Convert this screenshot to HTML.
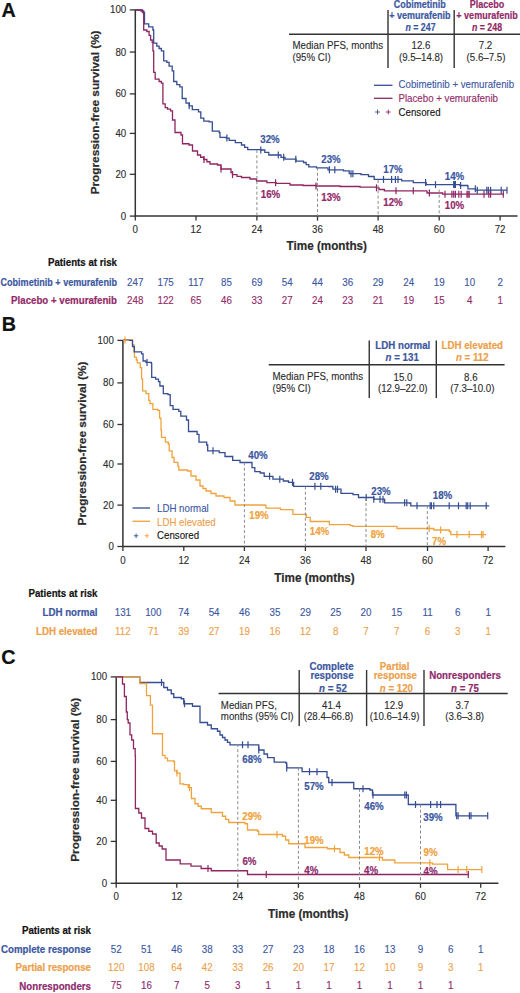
<!DOCTYPE html>
<html><head><meta charset="utf-8"><style>
html,body{margin:0;padding:0;background:#fff;}
body{width:520px;height:993px;overflow:hidden;}
svg{display:block;font-family:"Liberation Sans", sans-serif;}
</style></head><body>
<svg width="520" height="993" viewBox="0 0 520 993">
<text transform="translate(1.5,17.2) scale(0.98,1)" font-size="20.09" font-weight="bold" fill="#111" stroke="#111" stroke-width="0.2" text-anchor="start">A</text>
<text x="0" y="0" font-size="11.8" font-weight="bold" fill="#2b2b2b" stroke="#2b2b2b" stroke-width="0.2" text-anchor="middle" transform="translate(99.3,112.4) rotate(-90)">Progression-free survival (%)</text>
<line x1="135.3" y1="9.4" x2="135.3" y2="216.7" stroke="#333333" stroke-width="1.5"/>
<line x1="134.60000000000002" y1="216.1" x2="517.5" y2="216.1" stroke="#333333" stroke-width="1.5"/>
<line x1="129.8" y1="216.1" x2="135.3" y2="216.1" stroke="#333333" stroke-width="1.3"/>
<text transform="translate(126.20000000000002,219.6) scale(0.91,1)" font-size="10.67" fill="#2b2b2b" stroke="#2b2b2b" stroke-width="0.12" text-anchor="end">0</text>
<line x1="129.8" y1="174.3" x2="135.3" y2="174.3" stroke="#333333" stroke-width="1.3"/>
<text transform="translate(126.20000000000002,177.8) scale(0.91,1)" font-size="10.67" fill="#2b2b2b" stroke="#2b2b2b" stroke-width="0.12" text-anchor="end">20</text>
<line x1="129.8" y1="133.4" x2="135.3" y2="133.4" stroke="#333333" stroke-width="1.3"/>
<text transform="translate(126.20000000000002,136.9) scale(0.91,1)" font-size="10.67" fill="#2b2b2b" stroke="#2b2b2b" stroke-width="0.12" text-anchor="end">40</text>
<line x1="129.8" y1="93.9" x2="135.3" y2="93.9" stroke="#333333" stroke-width="1.3"/>
<text transform="translate(126.20000000000002,97.4) scale(0.91,1)" font-size="10.67" fill="#2b2b2b" stroke="#2b2b2b" stroke-width="0.12" text-anchor="end">60</text>
<line x1="129.8" y1="52.05" x2="135.3" y2="52.05" stroke="#333333" stroke-width="1.3"/>
<text transform="translate(126.20000000000002,55.55) scale(0.91,1)" font-size="10.67" fill="#2b2b2b" stroke="#2b2b2b" stroke-width="0.12" text-anchor="end">80</text>
<line x1="129.8" y1="9.9" x2="135.3" y2="9.9" stroke="#333333" stroke-width="1.3"/>
<text transform="translate(126.20000000000002,13.4) scale(0.91,1)" font-size="10.67" fill="#2b2b2b" stroke="#2b2b2b" stroke-width="0.12" text-anchor="end">100</text>
<line x1="135.3" y1="216.1" x2="135.3" y2="220.6" stroke="#333333" stroke-width="1.3"/>
<text transform="translate(135.3,233.1) scale(0.91,1)" font-size="10.67" fill="#2b2b2b" stroke="#2b2b2b" stroke-width="0.12" text-anchor="middle">0</text>
<line x1="196" y1="216.1" x2="196" y2="220.6" stroke="#333333" stroke-width="1.3"/>
<text transform="translate(196,233.1) scale(0.91,1)" font-size="10.67" fill="#2b2b2b" stroke="#2b2b2b" stroke-width="0.12" text-anchor="middle">12</text>
<line x1="256.9" y1="216.1" x2="256.9" y2="220.6" stroke="#333333" stroke-width="1.3"/>
<text transform="translate(256.9,233.1) scale(0.91,1)" font-size="10.67" fill="#2b2b2b" stroke="#2b2b2b" stroke-width="0.12" text-anchor="middle">24</text>
<line x1="317.5" y1="216.1" x2="317.5" y2="220.6" stroke="#333333" stroke-width="1.3"/>
<text transform="translate(317.5,233.1) scale(0.91,1)" font-size="10.67" fill="#2b2b2b" stroke="#2b2b2b" stroke-width="0.12" text-anchor="middle">36</text>
<line x1="378.1" y1="216.1" x2="378.1" y2="220.6" stroke="#333333" stroke-width="1.3"/>
<text transform="translate(378.1,233.1) scale(0.91,1)" font-size="10.67" fill="#2b2b2b" stroke="#2b2b2b" stroke-width="0.12" text-anchor="middle">48</text>
<line x1="439.2" y1="216.1" x2="439.2" y2="220.6" stroke="#333333" stroke-width="1.3"/>
<text transform="translate(439.2,233.1) scale(0.91,1)" font-size="10.67" fill="#2b2b2b" stroke="#2b2b2b" stroke-width="0.12" text-anchor="middle">60</text>
<line x1="500.1" y1="216.1" x2="500.1" y2="220.6" stroke="#333333" stroke-width="1.3"/>
<text transform="translate(500.1,233.1) scale(0.91,1)" font-size="10.67" fill="#2b2b2b" stroke="#2b2b2b" stroke-width="0.12" text-anchor="middle">72</text>
<text transform="translate(326.75,250.2) scale(0.91,1)" font-size="12.87" font-weight="bold" fill="#2b2b2b" stroke="#2b2b2b" stroke-width="0.2" text-anchor="middle">Time (months)</text>
<path d="M135.50,10.00L140.00,10.00L140.00,10.00L142.50,10.00L142.50,12.50L144.50,12.50L144.50,23.80L148.70,23.80L148.70,26.90L152.90,26.90L152.90,30.00L153.70,30.00L153.70,43.10L156.80,43.10L156.80,46.20L159.10,46.20L159.10,48.50L161.40,48.50L161.40,50.80L163.70,50.80L163.70,60.80L166.80,60.80L166.80,62.30L169.10,62.30L169.10,66.20L172.20,66.20L172.20,70.80L173.70,70.80L173.70,81.50L176.80,81.50L176.80,84.60L179.80,84.60L179.80,86.90L182.20,86.90L182.20,98.50L186.00,98.50L186.00,103.10L189.20,103.10L189.20,105.80L192.30,105.80L192.30,109.60L198.50,109.60L198.50,111.90L200.80,111.90L200.80,118.10L203.80,118.10L203.80,121.20L209.20,121.20L209.20,121.90L212.30,121.90L212.30,131.20L219.20,131.20L219.20,132.70L220.00,132.70L220.00,137.30L226.20,137.30L226.20,138.10L229.20,138.10L229.20,140.40L235.35,140.40L235.35,142.70L241.50,142.70L241.50,145.00L244.60,145.00L244.60,147.30L247.70,147.30L247.70,149.60L260.80,149.60L260.80,150.00L264.80,150.00L264.80,152.30L268.80,152.30L268.80,155.00L281.00,155.00L281.00,157.30L285.00,157.30L285.00,159.20L296.00,159.20L296.00,161.20L303.50,161.20L303.50,162.50L306.15,162.50L306.15,164.70L308.80,164.70L308.80,166.90L316.50,166.90L316.50,167.90L328.00,167.90L328.00,169.80L343.50,169.80L343.50,170.80L349.20,170.80L349.20,173.70L361.00,173.70L361.00,174.60L368.50,174.60L368.50,176.50L374.20,176.50L374.20,179.40L401.70,179.40L401.70,180.90L413.30,180.90L413.30,182.60L426.20,182.60L426.20,184.60L451.50,184.60L451.50,184.60L460.00,184.60L460.00,185.50L467.70,185.50L467.70,186.20L468.00,186.20L468.00,188.80L475.40,188.80L475.40,188.80L475.60,188.80L475.60,190.20L507.00,190.20L507.00,190.20" fill="none" stroke="#354d92" stroke-width="1.3" stroke-linejoin="miter"/>
<path d="M135.50,10.00L141.00,10.00L141.00,10.00L141.00,10.00L141.00,11.00L143.70,11.00L143.70,30.00L146.80,30.00L146.80,31.50L149.10,31.50L149.10,35.40L150.60,35.40L150.60,40.00L152.20,40.00L152.20,42.30L152.90,42.30L152.90,50.80L153.70,50.80L153.70,72.30L155.20,72.30L155.20,79.20L159.10,79.20L159.10,81.50L161.40,81.50L161.40,83.10L162.90,83.10L162.90,103.80L165.20,103.80L165.20,107.70L167.50,107.70L167.50,109.20L170.60,109.20L170.60,110.80L172.50,110.80L172.50,120.00L175.00,120.00L175.00,132.50L181.00,132.50L181.00,135.00L182.50,135.00L182.50,143.75L189.00,143.75L189.00,145.00L192.50,145.00L192.50,151.00L197.50,151.00L197.50,155.00L200.62,155.00L200.62,157.25L203.75,157.25L203.75,159.50L206.88,159.50L206.88,161.75L210.00,161.75L210.00,164.00L217.50,164.00L217.50,165.00L221.00,165.00L221.00,169.00L231.00,169.00L231.00,172.50L232.50,172.50L232.50,174.60L237.00,174.60L237.00,176.30L241.50,176.30L241.50,177.50L250.00,177.50L250.00,179.00L256.50,179.00L256.50,181.00L266.90,181.00L266.90,182.70L276.10,182.70L276.10,183.30L290.00,183.30L290.00,185.00L303.00,185.00L303.00,185.50L316.00,185.50L316.00,186.00L340.00,186.00L340.00,186.50L360.00,186.50L360.00,187.20L376.50,187.20L376.50,187.80L379.00,187.80L379.00,189.50L384.40,189.50L384.40,190.80L423.00,190.80L423.00,190.80L427.00,190.80L427.00,193.00L442.70,193.00L442.70,194.20L504.00,194.20L504.00,194.20" fill="none" stroke="#8e2662" stroke-width="1.3" stroke-linejoin="miter"/>
<line x1="189.2" y1="102.3" x2="189.2" y2="109.3" stroke="#354d92" stroke-width="1.2"/>
<line x1="226.9" y1="134.6" x2="226.9" y2="141.6" stroke="#354d92" stroke-width="1.2"/>
<line x1="260.8" y1="146.5" x2="260.8" y2="153.5" stroke="#354d92" stroke-width="1.2"/>
<line x1="278.3" y1="151.5" x2="278.3" y2="158.5" stroke="#354d92" stroke-width="1.2"/>
<line x1="283.7" y1="153.8" x2="283.7" y2="160.8" stroke="#354d92" stroke-width="1.2"/>
<line x1="295.8" y1="155.7" x2="295.8" y2="162.7" stroke="#354d92" stroke-width="1.2"/>
<line x1="329.4" y1="166.3" x2="329.4" y2="173.3" stroke="#354d92" stroke-width="1.2"/>
<line x1="334.8" y1="166.3" x2="334.8" y2="173.3" stroke="#354d92" stroke-width="1.2"/>
<line x1="351" y1="170.2" x2="351" y2="177.2" stroke="#354d92" stroke-width="1.2"/>
<line x1="352.9" y1="170.2" x2="352.9" y2="177.2" stroke="#354d92" stroke-width="1.2"/>
<line x1="383.5" y1="175.9" x2="383.5" y2="182.9" stroke="#354d92" stroke-width="1.2"/>
<line x1="391.6" y1="175.9" x2="391.6" y2="182.9" stroke="#354d92" stroke-width="1.2"/>
<line x1="395.4" y1="175.9" x2="395.4" y2="182.9" stroke="#354d92" stroke-width="1.2"/>
<line x1="398" y1="175.9" x2="398" y2="182.9" stroke="#354d92" stroke-width="1.2"/>
<line x1="425.6" y1="179.1" x2="425.6" y2="186.1" stroke="#354d92" stroke-width="1.2"/>
<line x1="435.5" y1="181.1" x2="435.5" y2="188.1" stroke="#354d92" stroke-width="1.2"/>
<line x1="453.7" y1="181.1" x2="453.7" y2="188.1" stroke="#354d92" stroke-width="1.2"/>
<line x1="454.5" y1="181.1" x2="454.5" y2="188.1" stroke="#354d92" stroke-width="1.2"/>
<line x1="455.4" y1="181.1" x2="455.4" y2="188.1" stroke="#354d92" stroke-width="1.2"/>
<line x1="460.6" y1="182.0" x2="460.6" y2="189.0" stroke="#354d92" stroke-width="1.2"/>
<line x1="475.3" y1="185.3" x2="475.3" y2="192.3" stroke="#354d92" stroke-width="1.2"/>
<line x1="477.3" y1="186.7" x2="477.3" y2="193.7" stroke="#354d92" stroke-width="1.2"/>
<line x1="486.8" y1="186.7" x2="486.8" y2="193.7" stroke="#354d92" stroke-width="1.2"/>
<line x1="488.3" y1="186.7" x2="488.3" y2="193.7" stroke="#354d92" stroke-width="1.2"/>
<line x1="490.6" y1="186.7" x2="490.6" y2="193.7" stroke="#354d92" stroke-width="1.2"/>
<line x1="501.2" y1="186.7" x2="501.2" y2="193.7" stroke="#354d92" stroke-width="1.2"/>
<line x1="507" y1="186.7" x2="507" y2="193.7" stroke="#354d92" stroke-width="1.2"/>
<line x1="204" y1="156.0" x2="204" y2="163.0" stroke="#8e2662" stroke-width="1.2"/>
<line x1="221" y1="165.5" x2="221" y2="172.5" stroke="#8e2662" stroke-width="1.2"/>
<line x1="232.5" y1="171.1" x2="232.5" y2="178.1" stroke="#8e2662" stroke-width="1.2"/>
<line x1="275.6" y1="179.2" x2="275.6" y2="186.2" stroke="#8e2662" stroke-width="1.2"/>
<line x1="316" y1="182.5" x2="316" y2="189.5" stroke="#8e2662" stroke-width="1.2"/>
<line x1="376.5" y1="184.3" x2="376.5" y2="191.3" stroke="#8e2662" stroke-width="1.2"/>
<line x1="396" y1="187.3" x2="396" y2="194.3" stroke="#8e2662" stroke-width="1.2"/>
<line x1="413.3" y1="187.3" x2="413.3" y2="194.3" stroke="#8e2662" stroke-width="1.2"/>
<line x1="429.4" y1="189.5" x2="429.4" y2="196.5" stroke="#8e2662" stroke-width="1.2"/>
<line x1="445" y1="190.7" x2="445" y2="197.7" stroke="#8e2662" stroke-width="1.2"/>
<line x1="451.9" y1="190.7" x2="451.9" y2="197.7" stroke="#8e2662" stroke-width="1.2"/>
<line x1="453.7" y1="190.7" x2="453.7" y2="197.7" stroke="#8e2662" stroke-width="1.2"/>
<line x1="455.4" y1="190.7" x2="455.4" y2="197.7" stroke="#8e2662" stroke-width="1.2"/>
<line x1="458.8" y1="190.7" x2="458.8" y2="197.7" stroke="#8e2662" stroke-width="1.2"/>
<line x1="461.2" y1="190.7" x2="461.2" y2="197.7" stroke="#8e2662" stroke-width="1.2"/>
<line x1="467" y1="190.7" x2="467" y2="197.7" stroke="#8e2662" stroke-width="1.2"/>
<line x1="468" y1="190.7" x2="468" y2="197.7" stroke="#8e2662" stroke-width="1.2"/>
<line x1="469.2" y1="190.7" x2="469.2" y2="197.7" stroke="#8e2662" stroke-width="1.2"/>
<line x1="484" y1="190.7" x2="484" y2="197.7" stroke="#8e2662" stroke-width="1.2"/>
<line x1="488.8" y1="190.7" x2="488.8" y2="197.7" stroke="#8e2662" stroke-width="1.2"/>
<line x1="490.6" y1="190.7" x2="490.6" y2="197.7" stroke="#8e2662" stroke-width="1.2"/>
<line x1="503.3" y1="190.7" x2="503.3" y2="197.7" stroke="#8e2662" stroke-width="1.2"/>
<line x1="256.9" y1="150" x2="256.9" y2="216.25" stroke="#8a8a8a" stroke-width="1.0" stroke-dasharray="3,2.2"/>
<line x1="317.5" y1="167.5" x2="317.5" y2="216.25" stroke="#8a8a8a" stroke-width="1.0" stroke-dasharray="3,2.2"/>
<line x1="378.1" y1="180" x2="378.1" y2="216.25" stroke="#8a8a8a" stroke-width="1.0" stroke-dasharray="3,2.2"/>
<line x1="439.2" y1="189.5" x2="439.2" y2="216.25" stroke="#8a8a8a" stroke-width="1.0" stroke-dasharray="3,2.2"/>
<text transform="translate(270,143) scale(0.91,1)" font-size="10.67" font-weight="bold" fill="#3b579f" stroke="#3b579f" stroke-width="0.2" text-anchor="middle">32%</text>
<text transform="translate(331,163) scale(0.91,1)" font-size="10.67" font-weight="bold" fill="#3b579f" stroke="#3b579f" stroke-width="0.2" text-anchor="middle">23%</text>
<text transform="translate(393,173) scale(0.91,1)" font-size="10.67" font-weight="bold" fill="#3b579f" stroke="#3b579f" stroke-width="0.2" text-anchor="middle">17%</text>
<text transform="translate(454.5,180) scale(0.91,1)" font-size="10.67" font-weight="bold" fill="#3b579f" stroke="#3b579f" stroke-width="0.2" text-anchor="middle">14%</text>
<text transform="translate(270.5,198) scale(0.91,1)" font-size="10.67" font-weight="bold" fill="#932968" stroke="#932968" stroke-width="0.2" text-anchor="middle">16%</text>
<text transform="translate(331,200.5) scale(0.91,1)" font-size="10.67" font-weight="bold" fill="#932968" stroke="#932968" stroke-width="0.2" text-anchor="middle">13%</text>
<text transform="translate(393,206) scale(0.91,1)" font-size="10.67" font-weight="bold" fill="#932968" stroke="#932968" stroke-width="0.2" text-anchor="middle">12%</text>
<text transform="translate(454.5,209) scale(0.91,1)" font-size="10.67" font-weight="bold" fill="#932968" stroke="#932968" stroke-width="0.2" text-anchor="middle">10%</text>
<line x1="289" y1="34.25" x2="520" y2="34.25" stroke="#333333" stroke-width="1.4"/>
<line x1="388" y1="10" x2="388" y2="68" stroke="#333333" stroke-width="1.4"/>
<line x1="454.2" y1="10" x2="454.2" y2="68" stroke="#333333" stroke-width="1.4"/>
<text transform="translate(419.8,7.9) scale(0.9,1)" font-size="10.01" font-weight="bold" fill="#3b579f" stroke="#3b579f" stroke-width="0.2" text-anchor="middle">Cobimetinib</text>
<text transform="translate(419.8,19.2) scale(0.9,1)" font-size="10.01" font-weight="bold" fill="#3b579f" stroke="#3b579f" stroke-width="0.2" text-anchor="middle">+ vemurafenib</text>
<text transform="translate(487,7.9) scale(0.9,1)" font-size="10.01" font-weight="bold" fill="#932968" stroke="#932968" stroke-width="0.2" text-anchor="middle">Placebo</text>
<text transform="translate(487,19.2) scale(0.9,1)" font-size="10.01" font-weight="bold" fill="#932968" stroke="#932968" stroke-width="0.2" text-anchor="middle">+ vemurafenib</text>
<text transform="translate(420.5,30.9) scale(0.88,1)" font-size="10.01" font-weight="bold" fill="#3b579f" stroke="#3b579f" stroke-width="0.2" text-anchor="middle"><tspan font-style="italic">n</tspan> = 247</text>
<text transform="translate(487,30.9) scale(0.88,1)" font-size="10.01" font-weight="bold" fill="#932968" stroke="#932968" stroke-width="0.2" text-anchor="middle"><tspan font-style="italic">n</tspan> = 248</text>
<text transform="translate(292.5,49) scale(0.91,1)" font-size="10.67" fill="#2b2b2b" stroke="#2b2b2b" stroke-width="0.12" text-anchor="start">Median PFS, months</text>
<text transform="translate(292.5,60.5) scale(0.91,1)" font-size="10.67" fill="#2b2b2b" stroke="#2b2b2b" stroke-width="0.12" text-anchor="start">(95% CI)</text>
<text transform="translate(421,48.7) scale(0.91,1)" font-size="10.67" fill="#2b2b2b" stroke="#2b2b2b" stroke-width="0.12" text-anchor="middle">12.6</text>
<text transform="translate(421,60.5) scale(0.91,1)" font-size="10.67" fill="#2b2b2b" stroke="#2b2b2b" stroke-width="0.12" text-anchor="middle">(9.5–14.8)</text>
<text transform="translate(485.5,48.7) scale(0.91,1)" font-size="10.67" fill="#2b2b2b" stroke="#2b2b2b" stroke-width="0.12" text-anchor="middle">7.2</text>
<text transform="translate(486,60.5) scale(0.91,1)" font-size="10.67" fill="#2b2b2b" stroke="#2b2b2b" stroke-width="0.12" text-anchor="middle">(5.6–7.5)</text>
<line x1="374" y1="85.3" x2="392.5" y2="85.3" stroke="#354d92" stroke-width="1.3"/>
<line x1="374" y1="98.3" x2="392.5" y2="98.3" stroke="#8e2662" stroke-width="1.3"/>
<text transform="translate(398.5,88.3) scale(0.91,1)" font-size="10.67" fill="#3b579f" stroke="#3b579f" stroke-width="0.12" text-anchor="start">Cobimetinib + vemurafenib</text>
<text transform="translate(398.5,102) scale(0.91,1)" font-size="10.67" fill="#932968" stroke="#932968" stroke-width="0.12" text-anchor="start">Placebo + vemurafenib</text>
<text transform="translate(398.5,116) scale(0.91,1)" font-size="10.67" fill="#111" stroke="#111" stroke-width="0.12" text-anchor="start">Censored</text>
<line x1="377.5" y1="109.6" x2="377.5" y2="114.4" stroke="#354d92" stroke-width="0.9"/>
<line x1="375.1" y1="112" x2="379.9" y2="112" stroke="#354d92" stroke-width="0.9"/>
<line x1="388.3" y1="109.6" x2="388.3" y2="114.4" stroke="#8e2662" stroke-width="0.9"/>
<line x1="385.9" y1="112" x2="390.7" y2="112" stroke="#8e2662" stroke-width="0.9"/>
<text transform="translate(117,266.3) scale(0.91,1)" font-size="10.67" font-weight="bold" fill="#111" stroke="#111" stroke-width="0.2" text-anchor="end">Patients at risk</text>
<text transform="translate(117,285.8) scale(0.85,1)" font-size="10.67" font-weight="bold" fill="#3b579f" stroke="#3b579f" stroke-width="0.2" text-anchor="end">Cobimetinib + vemurafenib</text>
<text transform="translate(117,303.8) scale(0.91,1)" font-size="10.67" font-weight="bold" fill="#932968" stroke="#932968" stroke-width="0.2" text-anchor="end">Placebo + vemurafenib</text>
<text transform="translate(135.3,286.0) scale(0.91,1)" font-size="10.78" fill="#3b579f" stroke="#3b579f" stroke-width="0.12" text-anchor="middle">247</text>
<text transform="translate(135.3,303.7) scale(0.91,1)" font-size="10.78" fill="#932968" stroke="#932968" stroke-width="0.12" text-anchor="middle">248</text>
<text transform="translate(165.65,286.0) scale(0.91,1)" font-size="10.78" fill="#3b579f" stroke="#3b579f" stroke-width="0.12" text-anchor="middle">175</text>
<text transform="translate(165.65,303.7) scale(0.91,1)" font-size="10.78" fill="#932968" stroke="#932968" stroke-width="0.12" text-anchor="middle">122</text>
<text transform="translate(196,286.0) scale(0.91,1)" font-size="10.78" fill="#3b579f" stroke="#3b579f" stroke-width="0.12" text-anchor="middle">117</text>
<text transform="translate(196,303.7) scale(0.91,1)" font-size="10.78" fill="#932968" stroke="#932968" stroke-width="0.12" text-anchor="middle">65</text>
<text transform="translate(226.45,286.0) scale(0.91,1)" font-size="10.78" fill="#3b579f" stroke="#3b579f" stroke-width="0.12" text-anchor="middle">85</text>
<text transform="translate(226.45,303.7) scale(0.91,1)" font-size="10.78" fill="#932968" stroke="#932968" stroke-width="0.12" text-anchor="middle">46</text>
<text transform="translate(256.9,286.0) scale(0.91,1)" font-size="10.78" fill="#3b579f" stroke="#3b579f" stroke-width="0.12" text-anchor="middle">69</text>
<text transform="translate(256.9,303.7) scale(0.91,1)" font-size="10.78" fill="#932968" stroke="#932968" stroke-width="0.12" text-anchor="middle">33</text>
<text transform="translate(287.2,286.0) scale(0.91,1)" font-size="10.78" fill="#3b579f" stroke="#3b579f" stroke-width="0.12" text-anchor="middle">54</text>
<text transform="translate(287.2,303.7) scale(0.91,1)" font-size="10.78" fill="#932968" stroke="#932968" stroke-width="0.12" text-anchor="middle">27</text>
<text transform="translate(317.5,286.0) scale(0.91,1)" font-size="10.78" fill="#3b579f" stroke="#3b579f" stroke-width="0.12" text-anchor="middle">44</text>
<text transform="translate(317.5,303.7) scale(0.91,1)" font-size="10.78" fill="#932968" stroke="#932968" stroke-width="0.12" text-anchor="middle">24</text>
<text transform="translate(347.8,286.0) scale(0.91,1)" font-size="10.78" fill="#3b579f" stroke="#3b579f" stroke-width="0.12" text-anchor="middle">36</text>
<text transform="translate(347.8,303.7) scale(0.91,1)" font-size="10.78" fill="#932968" stroke="#932968" stroke-width="0.12" text-anchor="middle">23</text>
<text transform="translate(378.1,286.0) scale(0.91,1)" font-size="10.78" fill="#3b579f" stroke="#3b579f" stroke-width="0.12" text-anchor="middle">29</text>
<text transform="translate(378.1,303.7) scale(0.91,1)" font-size="10.78" fill="#932968" stroke="#932968" stroke-width="0.12" text-anchor="middle">21</text>
<text transform="translate(408.65,286.0) scale(0.91,1)" font-size="10.78" fill="#3b579f" stroke="#3b579f" stroke-width="0.12" text-anchor="middle">24</text>
<text transform="translate(408.65,303.7) scale(0.91,1)" font-size="10.78" fill="#932968" stroke="#932968" stroke-width="0.12" text-anchor="middle">19</text>
<text transform="translate(439.2,286.0) scale(0.91,1)" font-size="10.78" fill="#3b579f" stroke="#3b579f" stroke-width="0.12" text-anchor="middle">19</text>
<text transform="translate(439.2,303.7) scale(0.91,1)" font-size="10.78" fill="#932968" stroke="#932968" stroke-width="0.12" text-anchor="middle">15</text>
<text transform="translate(469.65,286.0) scale(0.91,1)" font-size="10.78" fill="#3b579f" stroke="#3b579f" stroke-width="0.12" text-anchor="middle">10</text>
<text transform="translate(469.65,303.7) scale(0.91,1)" font-size="10.78" fill="#932968" stroke="#932968" stroke-width="0.12" text-anchor="middle">4</text>
<text transform="translate(500.1,286.0) scale(0.91,1)" font-size="10.78" fill="#3b579f" stroke="#3b579f" stroke-width="0.12" text-anchor="middle">2</text>
<text transform="translate(500.1,303.7) scale(0.91,1)" font-size="10.78" fill="#932968" stroke="#932968" stroke-width="0.12" text-anchor="middle">1</text>
<text transform="translate(1.8,330.5) scale(0.98,1)" font-size="20.09" font-weight="bold" fill="#111" stroke="#111" stroke-width="0.2" text-anchor="start">B</text>
<text x="0" y="0" font-size="11.8" font-weight="bold" fill="#2b2b2b" stroke="#2b2b2b" stroke-width="0.2" text-anchor="middle" transform="translate(86.3,443.5) rotate(-90)">Progression-free survival (%)</text>
<line x1="122.9" y1="339.9" x2="122.9" y2="547.1" stroke="#333333" stroke-width="1.5"/>
<line x1="122.2" y1="546.5" x2="505.4" y2="546.5" stroke="#333333" stroke-width="1.5"/>
<line x1="117.4" y1="546.5" x2="122.9" y2="546.5" stroke="#333333" stroke-width="1.3"/>
<text transform="translate(113.80000000000001,550.0) scale(0.91,1)" font-size="10.67" fill="#2b2b2b" stroke="#2b2b2b" stroke-width="0.12" text-anchor="end">0</text>
<line x1="117.4" y1="505.1" x2="122.9" y2="505.1" stroke="#333333" stroke-width="1.3"/>
<text transform="translate(113.80000000000001,508.6) scale(0.91,1)" font-size="10.67" fill="#2b2b2b" stroke="#2b2b2b" stroke-width="0.12" text-anchor="end">20</text>
<line x1="117.4" y1="464" x2="122.9" y2="464" stroke="#333333" stroke-width="1.3"/>
<text transform="translate(113.80000000000001,467.5) scale(0.91,1)" font-size="10.67" fill="#2b2b2b" stroke="#2b2b2b" stroke-width="0.12" text-anchor="end">40</text>
<line x1="117.4" y1="424.5" x2="122.9" y2="424.5" stroke="#333333" stroke-width="1.3"/>
<text transform="translate(113.80000000000001,428.0) scale(0.91,1)" font-size="10.67" fill="#2b2b2b" stroke="#2b2b2b" stroke-width="0.12" text-anchor="end">60</text>
<line x1="117.4" y1="382.9" x2="122.9" y2="382.9" stroke="#333333" stroke-width="1.3"/>
<text transform="translate(113.80000000000001,386.4) scale(0.91,1)" font-size="10.67" fill="#2b2b2b" stroke="#2b2b2b" stroke-width="0.12" text-anchor="end">80</text>
<line x1="117.4" y1="340.4" x2="122.9" y2="340.4" stroke="#333333" stroke-width="1.3"/>
<text transform="translate(113.80000000000001,343.9) scale(0.91,1)" font-size="10.67" fill="#2b2b2b" stroke="#2b2b2b" stroke-width="0.12" text-anchor="end">100</text>
<line x1="122.9" y1="546.5" x2="122.9" y2="551.0" stroke="#333333" stroke-width="1.3"/>
<text transform="translate(122.9,563.5) scale(0.91,1)" font-size="10.67" fill="#2b2b2b" stroke="#2b2b2b" stroke-width="0.12" text-anchor="middle">0</text>
<line x1="183.8" y1="546.5" x2="183.8" y2="551.0" stroke="#333333" stroke-width="1.3"/>
<text transform="translate(183.8,563.5) scale(0.91,1)" font-size="10.67" fill="#2b2b2b" stroke="#2b2b2b" stroke-width="0.12" text-anchor="middle">12</text>
<line x1="244.4" y1="546.5" x2="244.4" y2="551.0" stroke="#333333" stroke-width="1.3"/>
<text transform="translate(244.4,563.5) scale(0.91,1)" font-size="10.67" fill="#2b2b2b" stroke="#2b2b2b" stroke-width="0.12" text-anchor="middle">24</text>
<line x1="305.4" y1="546.5" x2="305.4" y2="551.0" stroke="#333333" stroke-width="1.3"/>
<text transform="translate(305.4,563.5) scale(0.91,1)" font-size="10.67" fill="#2b2b2b" stroke="#2b2b2b" stroke-width="0.12" text-anchor="middle">36</text>
<line x1="366" y1="546.5" x2="366" y2="551.0" stroke="#333333" stroke-width="1.3"/>
<text transform="translate(366,563.5) scale(0.91,1)" font-size="10.67" fill="#2b2b2b" stroke="#2b2b2b" stroke-width="0.12" text-anchor="middle">48</text>
<line x1="427.5" y1="546.5" x2="427.5" y2="551.0" stroke="#333333" stroke-width="1.3"/>
<text transform="translate(427.5,563.5) scale(0.91,1)" font-size="10.67" fill="#2b2b2b" stroke="#2b2b2b" stroke-width="0.12" text-anchor="middle">60</text>
<line x1="488.1" y1="546.5" x2="488.1" y2="551.0" stroke="#333333" stroke-width="1.3"/>
<text transform="translate(488.1,563.5) scale(0.91,1)" font-size="10.67" fill="#2b2b2b" stroke="#2b2b2b" stroke-width="0.12" text-anchor="middle">72</text>
<text transform="translate(314.5,582.3) scale(0.91,1)" font-size="12.87" font-weight="bold" fill="#2b2b2b" stroke="#2b2b2b" stroke-width="0.2" text-anchor="middle">Time (months)</text>
<path d="M123.10,340.00L130.00,340.00L130.00,340.00L132.50,340.00L132.50,344.60L133.90,344.60L133.90,351.80L134.40,351.80L134.40,357.10L136.30,357.10L136.30,360.00L137.30,360.00L137.30,362.90L140.20,362.90L140.20,367.70L141.60,367.70L141.60,379.20L142.60,379.20L142.60,390.80L146.00,390.80L146.00,393.70L148.80,393.70L148.80,400.40L150.00,400.40L150.00,403.70L152.90,403.70L152.90,409.40L157.70,409.40L157.70,410.40L159.60,410.40L159.60,418.10L161.00,418.10L161.00,430.00L161.50,430.00L161.50,437.30L165.40,437.30L165.40,442.10L168.30,442.10L168.30,444.00L169.20,444.00L169.20,450.80L172.10,450.80L172.10,457.50L174.00,457.50L174.00,462.30L177.90,462.30L177.90,466.20L178.80,466.20L178.80,470.00L187.50,470.00L187.50,471.00L191.00,471.00L191.00,476.00L196.00,476.00L196.00,480.00L200.00,480.00L200.00,486.00L203.00,486.00L203.00,488.50L206.00,488.50L206.00,491.00L211.00,491.00L211.00,493.50L216.00,493.50L216.00,496.00L224.00,496.00L224.00,497.50L230.00,497.50L230.00,501.00L235.00,501.00L235.00,505.00L265.00,505.00L265.00,505.40L266.00,505.40L266.00,508.10L279.40,508.10L279.40,508.10L280.40,508.10L280.40,509.60L291.00,509.60L291.00,509.60L292.90,509.60L292.90,514.40L305.40,514.40L305.40,514.40L306.30,514.40L306.30,517.30L309.20,517.30L309.20,517.30L310.20,517.30L310.20,521.50L328.50,521.50L328.50,521.50L329.40,521.50L329.40,524.60L350.40,524.60L350.40,525.60L353.00,525.60L353.00,526.40L395.40,526.40L395.40,526.40L397.00,526.40L397.00,528.50L433.80,528.50L433.80,530.00L449.20,530.00L449.20,531.50L450.80,531.50L450.80,534.60L486.20,534.60L486.20,534.60" fill="none" stroke="#f0a23c" stroke-width="1.3" stroke-linejoin="miter"/>
<path d="M123.10,340.00L128.70,340.00L128.70,340.30L132.50,340.30L132.50,346.50L134.40,346.50L134.40,351.80L137.80,351.80L137.80,351.80L141.60,351.80L141.60,353.80L143.10,353.80L143.10,361.00L146.00,361.00L146.00,362.40L151.30,362.40L151.30,363.40L151.70,363.40L151.70,377.30L155.60,377.30L155.60,379.20L158.50,379.20L158.50,381.60L159.90,381.60L159.90,386.00L163.30,386.00L163.30,393.70L168.00,393.70L168.00,394.60L170.20,394.60L170.20,405.60L173.00,405.60L173.00,409.40L178.80,409.40L178.80,411.30L180.80,411.30L180.80,416.20L186.50,416.20L186.50,420.00L188.50,420.00L188.50,431.50L197.10,431.50L197.10,434.40L199.00,434.40L199.00,442.10L206.70,442.10L206.70,445.00L207.70,445.00L207.70,450.80L219.20,450.80L219.20,452.70L225.00,452.70L225.00,456.50L232.70,456.50L232.70,460.40L240.00,460.40L240.00,462.50L248.00,462.50L248.00,462.50L252.00,462.50L252.00,467.70L254.80,467.70L254.80,471.70L260.20,471.70L260.20,473.00L264.20,473.00L264.20,476.30L272.90,476.30L272.90,479.20L283.30,479.20L283.30,481.00L288.50,481.00L288.50,482.40L293.60,482.40L293.60,486.30L328.90,486.30L328.90,486.50L332.90,486.50L332.90,489.20L341.00,489.20L341.00,493.30L353.00,493.30L353.00,494.60L358.50,494.60L358.50,497.50L373.80,497.50L373.80,499.20L384.60,499.20L384.60,502.80L409.20,502.80L409.20,503.00L410.80,503.00L410.80,505.80L489.20,505.80L489.20,505.80" fill="none" stroke="#354d92" stroke-width="1.3" stroke-linejoin="miter"/>
<line x1="123.1" y1="340.2" x2="129" y2="340.2" stroke="#f0a23c" stroke-width="1.3"/>
<line x1="147" y1="358.9" x2="147" y2="365.9" stroke="#354d92" stroke-width="1.2"/>
<line x1="213" y1="447.3" x2="213" y2="454.3" stroke="#354d92" stroke-width="1.2"/>
<line x1="269.6" y1="472.8" x2="269.6" y2="479.8" stroke="#354d92" stroke-width="1.2"/>
<line x1="279.8" y1="475.7" x2="279.8" y2="482.7" stroke="#354d92" stroke-width="1.2"/>
<line x1="292.5" y1="478.9" x2="292.5" y2="485.9" stroke="#354d92" stroke-width="1.2"/>
<line x1="314.9" y1="482.8" x2="314.9" y2="489.8" stroke="#354d92" stroke-width="1.2"/>
<line x1="320.8" y1="482.8" x2="320.8" y2="489.8" stroke="#354d92" stroke-width="1.2"/>
<line x1="335.6" y1="485.7" x2="335.6" y2="492.7" stroke="#354d92" stroke-width="1.2"/>
<line x1="337.5" y1="485.7" x2="337.5" y2="492.7" stroke="#354d92" stroke-width="1.2"/>
<line x1="366.2" y1="494.0" x2="366.2" y2="501.0" stroke="#354d92" stroke-width="1.2"/>
<line x1="373.8" y1="495.7" x2="373.8" y2="502.7" stroke="#354d92" stroke-width="1.2"/>
<line x1="380" y1="495.7" x2="380" y2="502.7" stroke="#354d92" stroke-width="1.2"/>
<line x1="383" y1="495.7" x2="383" y2="502.7" stroke="#354d92" stroke-width="1.2"/>
<line x1="404.6" y1="499.3" x2="404.6" y2="506.3" stroke="#354d92" stroke-width="1.2"/>
<line x1="406.8" y1="499.3" x2="406.8" y2="506.3" stroke="#354d92" stroke-width="1.2"/>
<line x1="417" y1="502.3" x2="417" y2="509.3" stroke="#354d92" stroke-width="1.2"/>
<line x1="430.2" y1="502.3" x2="430.2" y2="509.3" stroke="#354d92" stroke-width="1.2"/>
<line x1="431.4" y1="502.3" x2="431.4" y2="509.3" stroke="#354d92" stroke-width="1.2"/>
<line x1="433.8" y1="502.3" x2="433.8" y2="509.3" stroke="#354d92" stroke-width="1.2"/>
<line x1="449.2" y1="502.3" x2="449.2" y2="509.3" stroke="#354d92" stroke-width="1.2"/>
<line x1="458.5" y1="502.3" x2="458.5" y2="509.3" stroke="#354d92" stroke-width="1.2"/>
<line x1="466.2" y1="502.3" x2="466.2" y2="509.3" stroke="#354d92" stroke-width="1.2"/>
<line x1="467.7" y1="502.3" x2="467.7" y2="509.3" stroke="#354d92" stroke-width="1.2"/>
<line x1="470.2" y1="502.3" x2="470.2" y2="509.3" stroke="#354d92" stroke-width="1.2"/>
<line x1="486.2" y1="502.3" x2="486.2" y2="509.3" stroke="#354d92" stroke-width="1.2"/>
<line x1="125" y1="336.5" x2="125" y2="343.5" stroke="#f0a23c" stroke-width="1.2"/>
<line x1="429.2" y1="525.0" x2="429.2" y2="532.0" stroke="#f0a23c" stroke-width="1.2"/>
<line x1="440.6" y1="526.5" x2="440.6" y2="533.5" stroke="#f0a23c" stroke-width="1.2"/>
<line x1="457" y1="531.1" x2="457" y2="538.1" stroke="#f0a23c" stroke-width="1.2"/>
<line x1="469.2" y1="531.1" x2="469.2" y2="538.1" stroke="#f0a23c" stroke-width="1.2"/>
<line x1="481.5" y1="531.1" x2="481.5" y2="538.1" stroke="#f0a23c" stroke-width="1.2"/>
<line x1="483" y1="531.1" x2="483" y2="538.1" stroke="#f0a23c" stroke-width="1.2"/>
<line x1="244.4" y1="462.5" x2="244.4" y2="546.5" stroke="#8a8a8a" stroke-width="1.0" stroke-dasharray="3,2.2"/>
<line x1="305.4" y1="486.5" x2="305.4" y2="546.5" stroke="#8a8a8a" stroke-width="1.0" stroke-dasharray="3,2.2"/>
<line x1="366" y1="497.7" x2="366" y2="546.5" stroke="#8a8a8a" stroke-width="1.0" stroke-dasharray="3,2.2"/>
<line x1="427.3" y1="505.8" x2="427.3" y2="546.5" stroke="#8a8a8a" stroke-width="1.0" stroke-dasharray="3,2.2"/>
<text transform="translate(258,459) scale(0.91,1)" font-size="10.67" font-weight="bold" fill="#3b579f" stroke="#3b579f" stroke-width="0.2" text-anchor="middle">40%</text>
<text transform="translate(319,479.8) scale(0.91,1)" font-size="10.67" font-weight="bold" fill="#3b579f" stroke="#3b579f" stroke-width="0.2" text-anchor="middle">28%</text>
<text transform="translate(381,495) scale(0.91,1)" font-size="10.67" font-weight="bold" fill="#3b579f" stroke="#3b579f" stroke-width="0.2" text-anchor="middle">23%</text>
<text transform="translate(442.5,499) scale(0.91,1)" font-size="10.67" font-weight="bold" fill="#3b579f" stroke="#3b579f" stroke-width="0.2" text-anchor="middle">18%</text>
<text transform="translate(259,519) scale(0.91,1)" font-size="10.67" font-weight="bold" fill="#f0a23c" stroke="#f0a23c" stroke-width="0.2" text-anchor="middle">19%</text>
<text transform="translate(319.5,535) scale(0.91,1)" font-size="10.67" font-weight="bold" fill="#f0a23c" stroke="#f0a23c" stroke-width="0.2" text-anchor="middle">14%</text>
<text transform="translate(377.7,538.3) scale(0.91,1)" font-size="10.67" font-weight="bold" fill="#f0a23c" stroke="#f0a23c" stroke-width="0.2" text-anchor="middle">8%</text>
<text transform="translate(439,545.4) scale(0.91,1)" font-size="10.67" font-weight="bold" fill="#f0a23c" stroke="#f0a23c" stroke-width="0.2" text-anchor="middle">7%</text>
<line x1="268.75" y1="364.75" x2="504.6" y2="364.75" stroke="#333333" stroke-width="1.4"/>
<line x1="369.25" y1="340.6" x2="369.25" y2="398" stroke="#333333" stroke-width="1.4"/>
<line x1="436.3" y1="340.6" x2="436.3" y2="398" stroke="#333333" stroke-width="1.4"/>
<text transform="translate(402.8,349.2) scale(0.91,1)" font-size="10.67" font-weight="bold" fill="#3b579f" stroke="#3b579f" stroke-width="0.2" text-anchor="middle">LDH normal</text>
<text transform="translate(402.2,360.8) scale(0.91,1)" font-size="10.67" font-weight="bold" fill="#3b579f" stroke="#3b579f" stroke-width="0.2" text-anchor="middle"><tspan font-style="italic">n</tspan> = 131</text>
<text transform="translate(472.3,349.2) scale(0.91,1)" font-size="10.67" font-weight="bold" fill="#eda04a" stroke="#eda04a" stroke-width="0.2" text-anchor="middle">LDH elevated</text>
<text transform="translate(472.3,360.8) scale(0.91,1)" font-size="10.67" font-weight="bold" fill="#eda04a" stroke="#eda04a" stroke-width="0.2" text-anchor="middle"><tspan font-style="italic">n</tspan> = 112</text>
<text transform="translate(272.5,380.2) scale(0.91,1)" font-size="10.67" fill="#2b2b2b" stroke="#2b2b2b" stroke-width="0.12" text-anchor="start">Median PFS, months</text>
<text transform="translate(272.5,391.5) scale(0.91,1)" font-size="10.67" fill="#2b2b2b" stroke="#2b2b2b" stroke-width="0.12" text-anchor="start">(95% CI)</text>
<text transform="translate(403,380.5) scale(0.91,1)" font-size="10.67" fill="#2b2b2b" stroke="#2b2b2b" stroke-width="0.12" text-anchor="middle">15.0</text>
<text transform="translate(402.7,392) scale(0.91,1)" font-size="10.67" fill="#2b2b2b" stroke="#2b2b2b" stroke-width="0.12" text-anchor="middle">(12.9–22.0)</text>
<text transform="translate(470.8,380.5) scale(0.91,1)" font-size="10.67" fill="#2b2b2b" stroke="#2b2b2b" stroke-width="0.12" text-anchor="middle">8.6</text>
<text transform="translate(472.3,392) scale(0.91,1)" font-size="10.67" fill="#2b2b2b" stroke="#2b2b2b" stroke-width="0.12" text-anchor="middle">(7.3–10.0)</text>
<line x1="132.5" y1="508" x2="150" y2="508" stroke="#354d92" stroke-width="1.3"/>
<line x1="132.5" y1="521.25" x2="150" y2="521.25" stroke="#f0a23c" stroke-width="1.3"/>
<text transform="translate(157,512.3) scale(0.91,1)" font-size="10.67" fill="#3b579f" stroke="#3b579f" stroke-width="0.12" text-anchor="start">LDH normal</text>
<text transform="translate(157,525.8) scale(0.91,1)" font-size="10.67" fill="#eda04a" stroke="#eda04a" stroke-width="0.12" text-anchor="start">LDH elevated</text>
<text transform="translate(157,539.3) scale(0.91,1)" font-size="10.67" fill="#111" stroke="#111" stroke-width="0.12" text-anchor="start">Censored</text>
<line x1="136.1" y1="533.5" x2="136.1" y2="538.1" stroke="#354d92" stroke-width="0.9"/>
<line x1="133.8" y1="535.8" x2="138.4" y2="535.8" stroke="#354d92" stroke-width="0.9"/>
<line x1="146.9" y1="533.5" x2="146.9" y2="538.1" stroke="#f0a23c" stroke-width="0.9"/>
<line x1="144.6" y1="535.8" x2="149.2" y2="535.8" stroke="#f0a23c" stroke-width="0.9"/>
<text transform="translate(97.5,596.7) scale(0.91,1)" font-size="10.67" font-weight="bold" fill="#111" stroke="#111" stroke-width="0.2" text-anchor="end">Patients at risk</text>
<text transform="translate(97.5,616.2) scale(0.91,1)" font-size="10.67" font-weight="bold" fill="#3b579f" stroke="#3b579f" stroke-width="0.2" text-anchor="end">LDH normal</text>
<text transform="translate(97.5,634.8) scale(0.91,1)" font-size="10.67" font-weight="bold" fill="#eda04a" stroke="#eda04a" stroke-width="0.2" text-anchor="end">LDH elevated</text>
<text transform="translate(122.9,616.0) scale(0.91,1)" font-size="10.78" fill="#3b579f" stroke="#3b579f" stroke-width="0.12" text-anchor="middle">131</text>
<text transform="translate(122.9,634.6) scale(0.91,1)" font-size="10.78" fill="#eda04a" stroke="#eda04a" stroke-width="0.12" text-anchor="middle">112</text>
<text transform="translate(153.35000000000002,616.0) scale(0.91,1)" font-size="10.78" fill="#3b579f" stroke="#3b579f" stroke-width="0.12" text-anchor="middle">100</text>
<text transform="translate(153.35000000000002,634.6) scale(0.91,1)" font-size="10.78" fill="#eda04a" stroke="#eda04a" stroke-width="0.12" text-anchor="middle">71</text>
<text transform="translate(183.8,616.0) scale(0.91,1)" font-size="10.78" fill="#3b579f" stroke="#3b579f" stroke-width="0.12" text-anchor="middle">74</text>
<text transform="translate(183.8,634.6) scale(0.91,1)" font-size="10.78" fill="#eda04a" stroke="#eda04a" stroke-width="0.12" text-anchor="middle">39</text>
<text transform="translate(214.10000000000002,616.0) scale(0.91,1)" font-size="10.78" fill="#3b579f" stroke="#3b579f" stroke-width="0.12" text-anchor="middle">54</text>
<text transform="translate(214.10000000000002,634.6) scale(0.91,1)" font-size="10.78" fill="#eda04a" stroke="#eda04a" stroke-width="0.12" text-anchor="middle">27</text>
<text transform="translate(244.4,616.0) scale(0.91,1)" font-size="10.78" fill="#3b579f" stroke="#3b579f" stroke-width="0.12" text-anchor="middle">46</text>
<text transform="translate(244.4,634.6) scale(0.91,1)" font-size="10.78" fill="#eda04a" stroke="#eda04a" stroke-width="0.12" text-anchor="middle">19</text>
<text transform="translate(274.9,616.0) scale(0.91,1)" font-size="10.78" fill="#3b579f" stroke="#3b579f" stroke-width="0.12" text-anchor="middle">35</text>
<text transform="translate(274.9,634.6) scale(0.91,1)" font-size="10.78" fill="#eda04a" stroke="#eda04a" stroke-width="0.12" text-anchor="middle">16</text>
<text transform="translate(305.4,616.0) scale(0.91,1)" font-size="10.78" fill="#3b579f" stroke="#3b579f" stroke-width="0.12" text-anchor="middle">29</text>
<text transform="translate(305.4,634.6) scale(0.91,1)" font-size="10.78" fill="#eda04a" stroke="#eda04a" stroke-width="0.12" text-anchor="middle">12</text>
<text transform="translate(335.7,616.0) scale(0.91,1)" font-size="10.78" fill="#3b579f" stroke="#3b579f" stroke-width="0.12" text-anchor="middle">25</text>
<text transform="translate(335.7,634.6) scale(0.91,1)" font-size="10.78" fill="#eda04a" stroke="#eda04a" stroke-width="0.12" text-anchor="middle">8</text>
<text transform="translate(366,616.0) scale(0.91,1)" font-size="10.78" fill="#3b579f" stroke="#3b579f" stroke-width="0.12" text-anchor="middle">20</text>
<text transform="translate(366,634.6) scale(0.91,1)" font-size="10.78" fill="#eda04a" stroke="#eda04a" stroke-width="0.12" text-anchor="middle">7</text>
<text transform="translate(396.75,616.0) scale(0.91,1)" font-size="10.78" fill="#3b579f" stroke="#3b579f" stroke-width="0.12" text-anchor="middle">15</text>
<text transform="translate(396.75,634.6) scale(0.91,1)" font-size="10.78" fill="#eda04a" stroke="#eda04a" stroke-width="0.12" text-anchor="middle">7</text>
<text transform="translate(427.5,616.0) scale(0.91,1)" font-size="10.78" fill="#3b579f" stroke="#3b579f" stroke-width="0.12" text-anchor="middle">11</text>
<text transform="translate(427.5,634.6) scale(0.91,1)" font-size="10.78" fill="#eda04a" stroke="#eda04a" stroke-width="0.12" text-anchor="middle">6</text>
<text transform="translate(457.8,616.0) scale(0.91,1)" font-size="10.78" fill="#3b579f" stroke="#3b579f" stroke-width="0.12" text-anchor="middle">6</text>
<text transform="translate(457.8,634.6) scale(0.91,1)" font-size="10.78" fill="#eda04a" stroke="#eda04a" stroke-width="0.12" text-anchor="middle">3</text>
<text transform="translate(488.1,616.0) scale(0.91,1)" font-size="10.78" fill="#3b579f" stroke="#3b579f" stroke-width="0.12" text-anchor="middle">1</text>
<text transform="translate(488.1,634.6) scale(0.91,1)" font-size="10.78" fill="#eda04a" stroke="#eda04a" stroke-width="0.12" text-anchor="middle">1</text>
<text transform="translate(1.3,664.4) scale(0.98,1)" font-size="20.28" font-weight="bold" fill="#111" stroke="#111" stroke-width="0.2" text-anchor="start">C</text>
<text x="0" y="0" font-size="11.8" font-weight="bold" fill="#2b2b2b" stroke="#2b2b2b" stroke-width="0.2" text-anchor="middle" transform="translate(79.3,779.8) rotate(-90)">Progression-free survival (%)</text>
<line x1="116.2" y1="676.4" x2="116.2" y2="883.9" stroke="#333333" stroke-width="1.5"/>
<line x1="115.5" y1="883.3" x2="498.4" y2="883.3" stroke="#333333" stroke-width="1.5"/>
<line x1="110.7" y1="883.3" x2="116.2" y2="883.3" stroke="#333333" stroke-width="1.3"/>
<text transform="translate(107.10000000000001,886.8) scale(0.91,1)" font-size="10.67" fill="#2b2b2b" stroke="#2b2b2b" stroke-width="0.12" text-anchor="end">0</text>
<line x1="110.7" y1="841.4" x2="116.2" y2="841.4" stroke="#333333" stroke-width="1.3"/>
<text transform="translate(107.10000000000001,844.9) scale(0.91,1)" font-size="10.67" fill="#2b2b2b" stroke="#2b2b2b" stroke-width="0.12" text-anchor="end">20</text>
<line x1="110.7" y1="800.3" x2="116.2" y2="800.3" stroke="#333333" stroke-width="1.3"/>
<text transform="translate(107.10000000000001,803.8) scale(0.91,1)" font-size="10.67" fill="#2b2b2b" stroke="#2b2b2b" stroke-width="0.12" text-anchor="end">40</text>
<line x1="110.7" y1="761.4" x2="116.2" y2="761.4" stroke="#333333" stroke-width="1.3"/>
<text transform="translate(107.10000000000001,764.9) scale(0.91,1)" font-size="10.67" fill="#2b2b2b" stroke="#2b2b2b" stroke-width="0.12" text-anchor="end">60</text>
<line x1="110.7" y1="719.6" x2="116.2" y2="719.6" stroke="#333333" stroke-width="1.3"/>
<text transform="translate(107.10000000000001,723.1) scale(0.91,1)" font-size="10.67" fill="#2b2b2b" stroke="#2b2b2b" stroke-width="0.12" text-anchor="end">80</text>
<line x1="110.7" y1="676.9" x2="116.2" y2="676.9" stroke="#333333" stroke-width="1.3"/>
<text transform="translate(107.10000000000001,680.4) scale(0.91,1)" font-size="10.67" fill="#2b2b2b" stroke="#2b2b2b" stroke-width="0.12" text-anchor="end">100</text>
<line x1="116.2" y1="883.3" x2="116.2" y2="887.8" stroke="#333333" stroke-width="1.3"/>
<text transform="translate(116.2,900.3) scale(0.91,1)" font-size="10.67" fill="#2b2b2b" stroke="#2b2b2b" stroke-width="0.12" text-anchor="middle">0</text>
<line x1="176.8" y1="883.3" x2="176.8" y2="887.8" stroke="#333333" stroke-width="1.3"/>
<text transform="translate(176.8,900.3) scale(0.91,1)" font-size="10.67" fill="#2b2b2b" stroke="#2b2b2b" stroke-width="0.12" text-anchor="middle">12</text>
<line x1="237.8" y1="883.3" x2="237.8" y2="887.8" stroke="#333333" stroke-width="1.3"/>
<text transform="translate(237.8,900.3) scale(0.91,1)" font-size="10.67" fill="#2b2b2b" stroke="#2b2b2b" stroke-width="0.12" text-anchor="middle">24</text>
<line x1="298.4" y1="883.3" x2="298.4" y2="887.8" stroke="#333333" stroke-width="1.3"/>
<text transform="translate(298.4,900.3) scale(0.91,1)" font-size="10.67" fill="#2b2b2b" stroke="#2b2b2b" stroke-width="0.12" text-anchor="middle">36</text>
<line x1="359.5" y1="883.3" x2="359.5" y2="887.8" stroke="#333333" stroke-width="1.3"/>
<text transform="translate(359.5,900.3) scale(0.91,1)" font-size="10.67" fill="#2b2b2b" stroke="#2b2b2b" stroke-width="0.12" text-anchor="middle">48</text>
<line x1="420.5" y1="883.3" x2="420.5" y2="887.8" stroke="#333333" stroke-width="1.3"/>
<text transform="translate(420.5,900.3) scale(0.91,1)" font-size="10.67" fill="#2b2b2b" stroke="#2b2b2b" stroke-width="0.12" text-anchor="middle">60</text>
<line x1="480.7" y1="883.3" x2="480.7" y2="887.8" stroke="#333333" stroke-width="1.3"/>
<text transform="translate(480.7,900.3) scale(0.91,1)" font-size="10.67" fill="#2b2b2b" stroke="#2b2b2b" stroke-width="0.12" text-anchor="middle">72</text>
<text transform="translate(308.25,917.5) scale(0.91,1)" font-size="12.87" font-weight="bold" fill="#2b2b2b" stroke="#2b2b2b" stroke-width="0.2" text-anchor="middle">Time (months)</text>
<path d="M116.30,676.80L139.80,676.80L139.80,676.80L139.80,676.80L139.80,682.50L163.75,682.50L163.75,682.50L163.75,682.50L163.75,687.50L167.50,687.50L167.50,690.00L171.25,690.00L171.25,693.75L173.75,693.75L173.75,697.50L181.25,697.50L181.25,698.75L183.75,698.75L183.75,703.75L192.50,703.75L192.50,706.25L200.00,706.25L200.00,710.00L200.00,710.00L200.00,722.50L207.50,722.50L207.50,725.00L211.25,725.00L211.25,728.75L217.50,728.75L217.50,731.25L220.00,731.25L220.00,735.00L222.50,735.00L222.50,737.50L225.00,737.50L225.00,740.00L227.50,740.00L227.50,742.40L230.00,742.40L230.00,744.80L258.75,744.80L258.75,744.80L258.75,744.80L258.75,750.00L264.00,750.00L264.00,754.00L267.50,754.00L267.50,757.70L274.20,757.70L274.20,762.10L285.80,762.10L285.80,763.00L286.70,763.00L286.70,767.90L301.20,767.90L301.20,767.90L302.10,767.90L302.10,771.70L326.25,771.70L326.25,771.70L327.00,771.70L327.00,777.50L328.75,777.50L328.75,782.50L352.50,782.50L352.50,782.50L353.75,782.50L353.75,788.75L370.00,788.75L370.00,790.00L372.50,790.00L372.50,795.00L406.90,795.00L406.90,795.00L408.30,795.00L408.30,804.50L454.90,804.50L454.90,804.50L455.90,804.50L455.90,815.80L487.70,815.80L487.70,815.80" fill="none" stroke="#354d92" stroke-width="1.3" stroke-linejoin="miter"/>
<path d="M116.30,676.80L138.80,676.80L138.80,676.80L139.80,676.80L139.80,683.50L146.50,683.50L146.50,683.50L146.50,683.50L146.50,695.60L150.40,695.60L150.40,705.20L152.50,705.20L152.50,733.75L162.50,733.75L162.50,733.75L162.50,733.75L162.50,755.40L165.00,755.40L165.00,758.10L167.50,758.10L167.50,760.80L173.70,760.80L173.70,761.50L174.50,761.50L174.50,770.80L176.80,770.80L176.80,773.10L180.00,773.10L180.00,783.80L183.70,783.80L183.70,784.60L188.30,784.60L188.30,787.70L191.40,787.70L191.40,798.50L195.00,798.50L195.00,803.75L198.12,803.75L198.12,806.25L201.25,806.25L201.25,808.75L211.25,808.75L211.25,812.50L222.50,812.50L222.50,816.25L225.62,816.25L225.62,819.38L228.75,819.38L228.75,822.50L245.00,822.50L245.00,823.75L247.50,823.75L247.50,830.00L257.50,830.00L257.50,831.25L258.75,831.25L258.75,834.50L282.50,834.50L282.50,836.25L285.62,836.25L285.62,840.00L288.75,840.00L288.75,843.75L305.00,843.75L305.00,847.50L327.50,847.50L327.50,848.75L340.00,848.75L340.00,852.50L344.38,852.50L344.38,855.00L348.75,855.00L348.75,857.50L382.50,857.50L382.50,860.00L394.80,860.00L394.80,862.90L432.50,862.90L432.50,864.20L447.30,864.20L447.30,864.60L447.60,864.60L447.60,869.60L481.80,869.60L481.80,869.60" fill="none" stroke="#f0a23c" stroke-width="1.3" stroke-linejoin="miter"/>
<path d="M116.30,676.80L121.50,676.80L121.50,676.80L122.50,676.80L122.50,684.00L124.40,684.00L124.40,696.50L126.30,696.50L126.30,712.00L127.30,712.00L127.30,719.60L128.20,719.60L128.20,723.00L130.00,723.00L130.00,734.80L131.70,734.80L131.70,740.00L133.50,740.00L133.50,748.70L135.20,748.70L135.20,755.60L135.40,755.60L135.40,808.50L138.80,808.50L138.80,813.00L141.50,813.00L141.50,818.00L145.00,818.00L145.00,828.50L148.75,828.50L148.75,831.25L152.50,831.25L152.50,834.00L156.20,834.00L156.20,843.00L159.20,843.00L159.20,846.00L162.20,846.00L162.20,849.00L166.00,849.00L166.00,860.00L180.20,860.00L180.20,863.80L191.00,863.80L191.00,866.20L201.12,866.20L201.12,868.48L211.25,868.48L211.25,870.75L247.50,870.75L247.50,874.50L468.30,874.50L468.30,874.50" fill="none" stroke="#8e2662" stroke-width="1.3" stroke-linejoin="miter"/>
<line x1="161.5" y1="679.0" x2="161.5" y2="686.0" stroke="#354d92" stroke-width="1.2"/>
<line x1="184.5" y1="700.25" x2="184.5" y2="707.25" stroke="#354d92" stroke-width="1.2"/>
<line x1="242.5" y1="741.3" x2="242.5" y2="748.3" stroke="#354d92" stroke-width="1.2"/>
<line x1="248" y1="741.3" x2="248" y2="748.3" stroke="#354d92" stroke-width="1.2"/>
<line x1="258.75" y1="746.5" x2="258.75" y2="753.5" stroke="#354d92" stroke-width="1.2"/>
<line x1="286.7" y1="764.4" x2="286.7" y2="771.4" stroke="#354d92" stroke-width="1.2"/>
<line x1="309.5" y1="768.2" x2="309.5" y2="775.2" stroke="#354d92" stroke-width="1.2"/>
<line x1="317" y1="768.2" x2="317" y2="775.2" stroke="#354d92" stroke-width="1.2"/>
<line x1="332" y1="779.0" x2="332" y2="786.0" stroke="#354d92" stroke-width="1.2"/>
<line x1="363" y1="785.25" x2="363" y2="792.25" stroke="#354d92" stroke-width="1.2"/>
<line x1="373" y1="791.5" x2="373" y2="798.5" stroke="#354d92" stroke-width="1.2"/>
<line x1="404.8" y1="791.5" x2="404.8" y2="798.5" stroke="#354d92" stroke-width="1.2"/>
<line x1="406.4" y1="791.5" x2="406.4" y2="798.5" stroke="#354d92" stroke-width="1.2"/>
<line x1="415.5" y1="801.0" x2="415.5" y2="808.0" stroke="#354d92" stroke-width="1.2"/>
<line x1="430.6" y1="801.0" x2="430.6" y2="808.0" stroke="#354d92" stroke-width="1.2"/>
<line x1="437" y1="801.0" x2="437" y2="808.0" stroke="#354d92" stroke-width="1.2"/>
<line x1="440.6" y1="801.0" x2="440.6" y2="808.0" stroke="#354d92" stroke-width="1.2"/>
<line x1="456.7" y1="812.3" x2="456.7" y2="819.3" stroke="#354d92" stroke-width="1.2"/>
<line x1="458.1" y1="812.3" x2="458.1" y2="819.3" stroke="#354d92" stroke-width="1.2"/>
<line x1="469.4" y1="812.3" x2="469.4" y2="819.3" stroke="#354d92" stroke-width="1.2"/>
<line x1="471" y1="812.3" x2="471" y2="819.3" stroke="#354d92" stroke-width="1.2"/>
<line x1="487.7" y1="812.3" x2="487.7" y2="819.3" stroke="#354d92" stroke-width="1.2"/>
<line x1="177" y1="769.6" x2="177" y2="776.6" stroke="#f0a23c" stroke-width="1.2"/>
<line x1="189.5" y1="784.2" x2="189.5" y2="791.2" stroke="#f0a23c" stroke-width="1.2"/>
<line x1="277" y1="831.0" x2="277" y2="838.0" stroke="#f0a23c" stroke-width="1.2"/>
<line x1="334.5" y1="845.25" x2="334.5" y2="852.25" stroke="#f0a23c" stroke-width="1.2"/>
<line x1="379.5" y1="854.0" x2="379.5" y2="861.0" stroke="#f0a23c" stroke-width="1.2"/>
<line x1="429.8" y1="859.4" x2="429.8" y2="866.4" stroke="#f0a23c" stroke-width="1.2"/>
<line x1="458.1" y1="866.1" x2="458.1" y2="873.1" stroke="#f0a23c" stroke-width="1.2"/>
<line x1="466.7" y1="866.1" x2="466.7" y2="873.1" stroke="#f0a23c" stroke-width="1.2"/>
<line x1="481.8" y1="866.1" x2="481.8" y2="873.1" stroke="#f0a23c" stroke-width="1.2"/>
<line x1="208" y1="864.975" x2="208" y2="871.975" stroke="#8e2662" stroke-width="1.2"/>
<line x1="266.25" y1="871.0" x2="266.25" y2="878.0" stroke="#8e2662" stroke-width="1.2"/>
<line x1="468.3" y1="871.0" x2="468.3" y2="878.0" stroke="#8e2662" stroke-width="1.2"/>
<line x1="237.8" y1="744" x2="237.8" y2="883.3" stroke="#8a8a8a" stroke-width="1.0" stroke-dasharray="3,2.2"/>
<line x1="298.4" y1="767.5" x2="298.4" y2="883.3" stroke="#8a8a8a" stroke-width="1.0" stroke-dasharray="3,2.2"/>
<line x1="359.5" y1="788.75" x2="359.5" y2="883.3" stroke="#8a8a8a" stroke-width="1.0" stroke-dasharray="3,2.2"/>
<line x1="420.5" y1="804.5" x2="420.5" y2="883.3" stroke="#8a8a8a" stroke-width="1.0" stroke-dasharray="3,2.2"/>
<text transform="translate(252,762.5) scale(0.91,1)" font-size="10.67" font-weight="bold" fill="#3b579f" stroke="#3b579f" stroke-width="0.2" text-anchor="middle">68%</text>
<text transform="translate(314,789.5) scale(0.91,1)" font-size="10.67" font-weight="bold" fill="#3b579f" stroke="#3b579f" stroke-width="0.2" text-anchor="middle">57%</text>
<text transform="translate(374,810) scale(0.91,1)" font-size="10.67" font-weight="bold" fill="#3b579f" stroke="#3b579f" stroke-width="0.2" text-anchor="middle">46%</text>
<text transform="translate(433,821) scale(0.91,1)" font-size="10.67" font-weight="bold" fill="#3b579f" stroke="#3b579f" stroke-width="0.2" text-anchor="middle">39%</text>
<text transform="translate(252,819.5) scale(0.91,1)" font-size="10.67" font-weight="bold" fill="#f0a23c" stroke="#f0a23c" stroke-width="0.2" text-anchor="middle">29%</text>
<text transform="translate(314,843.75) scale(0.91,1)" font-size="10.67" font-weight="bold" fill="#f0a23c" stroke="#f0a23c" stroke-width="0.2" text-anchor="middle">19%</text>
<text transform="translate(374,855) scale(0.91,1)" font-size="10.67" font-weight="bold" fill="#f0a23c" stroke="#f0a23c" stroke-width="0.2" text-anchor="middle">12%</text>
<text transform="translate(430.5,855.6) scale(0.91,1)" font-size="10.67" font-weight="bold" fill="#f0a23c" stroke="#f0a23c" stroke-width="0.2" text-anchor="middle">9%</text>
<text transform="translate(249.4,865) scale(0.91,1)" font-size="10.67" font-weight="bold" fill="#8e2a6e" stroke="#8e2a6e" stroke-width="0.2" text-anchor="middle">6%</text>
<text transform="translate(311.25,873.75) scale(0.91,1)" font-size="10.67" font-weight="bold" fill="#8e2a6e" stroke="#8e2a6e" stroke-width="0.2" text-anchor="middle">4%</text>
<text transform="translate(371,873.75) scale(0.91,1)" font-size="10.67" font-weight="bold" fill="#8e2a6e" stroke="#8e2a6e" stroke-width="0.2" text-anchor="middle">4%</text>
<text transform="translate(430.5,874.5) scale(0.91,1)" font-size="10.67" font-weight="bold" fill="#8e2a6e" stroke="#8e2a6e" stroke-width="0.2" text-anchor="middle">4%</text>
<line x1="218.6" y1="693.5" x2="507.7" y2="693.5" stroke="#333333" stroke-width="1.4"/>
<line x1="299.2" y1="670" x2="299.2" y2="726" stroke="#333333" stroke-width="1.4"/>
<line x1="366.6" y1="670" x2="366.6" y2="726" stroke="#333333" stroke-width="1.4"/>
<line x1="424" y1="670" x2="424" y2="726" stroke="#333333" stroke-width="1.4"/>
<text transform="translate(331.5,669.5) scale(0.91,1)" font-size="10.67" font-weight="bold" fill="#3b579f" stroke="#3b579f" stroke-width="0.2" text-anchor="middle">Complete</text>
<text transform="translate(332,679.3) scale(0.91,1)" font-size="10.67" font-weight="bold" fill="#3b579f" stroke="#3b579f" stroke-width="0.2" text-anchor="middle">response</text>
<text transform="translate(333,691.5) scale(0.91,1)" font-size="10.67" font-weight="bold" fill="#3b579f" stroke="#3b579f" stroke-width="0.2" text-anchor="middle"><tspan font-style="italic">n</tspan> = 52</text>
<text transform="translate(394.6,669.5) scale(0.91,1)" font-size="10.67" font-weight="bold" fill="#eda04a" stroke="#eda04a" stroke-width="0.2" text-anchor="middle">Partial</text>
<text transform="translate(395.4,679.3) scale(0.91,1)" font-size="10.67" font-weight="bold" fill="#eda04a" stroke="#eda04a" stroke-width="0.2" text-anchor="middle">response</text>
<text transform="translate(396.4,691.5) scale(0.91,1)" font-size="10.67" font-weight="bold" fill="#eda04a" stroke="#eda04a" stroke-width="0.2" text-anchor="middle"><tspan font-style="italic">n</tspan> = 120</text>
<text transform="translate(465,679.4) scale(0.91,1)" font-size="10.67" font-weight="bold" fill="#8e2a6e" stroke="#8e2a6e" stroke-width="0.2" text-anchor="middle">Nonresponders</text>
<text transform="translate(465,691.5) scale(0.91,1)" font-size="10.67" font-weight="bold" fill="#8e2a6e" stroke="#8e2a6e" stroke-width="0.2" text-anchor="middle"><tspan font-style="italic">n</tspan> = 75</text>
<text transform="translate(220.8,708.5) scale(0.91,1)" font-size="10.67" fill="#2b2b2b" stroke="#2b2b2b" stroke-width="0.12" text-anchor="start">Median PFS,</text>
<text transform="translate(220.8,719.5) scale(0.91,1)" font-size="10.67" fill="#2b2b2b" stroke="#2b2b2b" stroke-width="0.12" text-anchor="start">months (95% CI)</text>
<text transform="translate(331.5,708.5) scale(0.91,1)" font-size="10.67" fill="#2b2b2b" stroke="#2b2b2b" stroke-width="0.12" text-anchor="middle">41.4</text>
<text transform="translate(328.5,719.5) scale(0.91,1)" font-size="10.67" fill="#2b2b2b" stroke="#2b2b2b" stroke-width="0.12" text-anchor="middle">(28.4–66.8)</text>
<text transform="translate(393.8,708.5) scale(0.91,1)" font-size="10.67" fill="#2b2b2b" stroke="#2b2b2b" stroke-width="0.12" text-anchor="middle">12.9</text>
<text transform="translate(394.6,719.5) scale(0.91,1)" font-size="10.67" fill="#2b2b2b" stroke="#2b2b2b" stroke-width="0.12" text-anchor="middle">(10.6–14.9)</text>
<text transform="translate(462.3,708.5) scale(0.91,1)" font-size="10.67" fill="#2b2b2b" stroke="#2b2b2b" stroke-width="0.12" text-anchor="middle">3.7</text>
<text transform="translate(464.6,719.5) scale(0.91,1)" font-size="10.67" fill="#2b2b2b" stroke="#2b2b2b" stroke-width="0.12" text-anchor="middle">(3.6–3.8)</text>
<text transform="translate(91,934) scale(0.91,1)" font-size="10.67" font-weight="bold" fill="#111" stroke="#111" stroke-width="0.2" text-anchor="end">Patients at risk</text>
<text transform="translate(91,953.3) scale(0.91,1)" font-size="10.67" font-weight="bold" fill="#3b579f" stroke="#3b579f" stroke-width="0.2" text-anchor="end">Complete response</text>
<text transform="translate(91,971) scale(0.91,1)" font-size="10.67" font-weight="bold" fill="#eda04a" stroke="#eda04a" stroke-width="0.2" text-anchor="end">Partial response</text>
<text transform="translate(91,989.8) scale(0.91,1)" font-size="10.67" font-weight="bold" fill="#8e2a6e" stroke="#8e2a6e" stroke-width="0.2" text-anchor="end">Nonresponders</text>
<text transform="translate(116.2,952.8) scale(0.91,1)" font-size="10.78" fill="#3b579f" stroke="#3b579f" stroke-width="0.12" text-anchor="middle">52</text>
<text transform="translate(116.2,970.8) scale(0.91,1)" font-size="10.78" fill="#eda04a" stroke="#eda04a" stroke-width="0.12" text-anchor="middle">120</text>
<text transform="translate(116.2,989.4) scale(0.91,1)" font-size="10.78" fill="#8e2a6e" stroke="#8e2a6e" stroke-width="0.12" text-anchor="middle">75</text>
<text transform="translate(146.5,952.8) scale(0.91,1)" font-size="10.78" fill="#3b579f" stroke="#3b579f" stroke-width="0.12" text-anchor="middle">51</text>
<text transform="translate(146.5,970.8) scale(0.91,1)" font-size="10.78" fill="#eda04a" stroke="#eda04a" stroke-width="0.12" text-anchor="middle">108</text>
<text transform="translate(146.5,989.4) scale(0.91,1)" font-size="10.78" fill="#8e2a6e" stroke="#8e2a6e" stroke-width="0.12" text-anchor="middle">16</text>
<text transform="translate(176.8,952.8) scale(0.91,1)" font-size="10.78" fill="#3b579f" stroke="#3b579f" stroke-width="0.12" text-anchor="middle">46</text>
<text transform="translate(176.8,970.8) scale(0.91,1)" font-size="10.78" fill="#eda04a" stroke="#eda04a" stroke-width="0.12" text-anchor="middle">64</text>
<text transform="translate(176.8,989.4) scale(0.91,1)" font-size="10.78" fill="#8e2a6e" stroke="#8e2a6e" stroke-width="0.12" text-anchor="middle">7</text>
<text transform="translate(207.3,952.8) scale(0.91,1)" font-size="10.78" fill="#3b579f" stroke="#3b579f" stroke-width="0.12" text-anchor="middle">38</text>
<text transform="translate(207.3,970.8) scale(0.91,1)" font-size="10.78" fill="#eda04a" stroke="#eda04a" stroke-width="0.12" text-anchor="middle">42</text>
<text transform="translate(207.3,989.4) scale(0.91,1)" font-size="10.78" fill="#8e2a6e" stroke="#8e2a6e" stroke-width="0.12" text-anchor="middle">5</text>
<text transform="translate(237.8,952.8) scale(0.91,1)" font-size="10.78" fill="#3b579f" stroke="#3b579f" stroke-width="0.12" text-anchor="middle">33</text>
<text transform="translate(237.8,970.8) scale(0.91,1)" font-size="10.78" fill="#eda04a" stroke="#eda04a" stroke-width="0.12" text-anchor="middle">33</text>
<text transform="translate(237.8,989.4) scale(0.91,1)" font-size="10.78" fill="#8e2a6e" stroke="#8e2a6e" stroke-width="0.12" text-anchor="middle">3</text>
<text transform="translate(268.1,952.8) scale(0.91,1)" font-size="10.78" fill="#3b579f" stroke="#3b579f" stroke-width="0.12" text-anchor="middle">27</text>
<text transform="translate(268.1,970.8) scale(0.91,1)" font-size="10.78" fill="#eda04a" stroke="#eda04a" stroke-width="0.12" text-anchor="middle">26</text>
<text transform="translate(268.1,989.4) scale(0.91,1)" font-size="10.78" fill="#8e2a6e" stroke="#8e2a6e" stroke-width="0.12" text-anchor="middle">1</text>
<text transform="translate(298.4,952.8) scale(0.91,1)" font-size="10.78" fill="#3b579f" stroke="#3b579f" stroke-width="0.12" text-anchor="middle">23</text>
<text transform="translate(298.4,970.8) scale(0.91,1)" font-size="10.78" fill="#eda04a" stroke="#eda04a" stroke-width="0.12" text-anchor="middle">20</text>
<text transform="translate(298.4,989.4) scale(0.91,1)" font-size="10.78" fill="#8e2a6e" stroke="#8e2a6e" stroke-width="0.12" text-anchor="middle">1</text>
<text transform="translate(328.95,952.8) scale(0.91,1)" font-size="10.78" fill="#3b579f" stroke="#3b579f" stroke-width="0.12" text-anchor="middle">18</text>
<text transform="translate(328.95,970.8) scale(0.91,1)" font-size="10.78" fill="#eda04a" stroke="#eda04a" stroke-width="0.12" text-anchor="middle">17</text>
<text transform="translate(328.95,989.4) scale(0.91,1)" font-size="10.78" fill="#8e2a6e" stroke="#8e2a6e" stroke-width="0.12" text-anchor="middle">1</text>
<text transform="translate(359.5,952.8) scale(0.91,1)" font-size="10.78" fill="#3b579f" stroke="#3b579f" stroke-width="0.12" text-anchor="middle">16</text>
<text transform="translate(359.5,970.8) scale(0.91,1)" font-size="10.78" fill="#eda04a" stroke="#eda04a" stroke-width="0.12" text-anchor="middle">12</text>
<text transform="translate(359.5,989.4) scale(0.91,1)" font-size="10.78" fill="#8e2a6e" stroke="#8e2a6e" stroke-width="0.12" text-anchor="middle">1</text>
<text transform="translate(390.0,952.8) scale(0.91,1)" font-size="10.78" fill="#3b579f" stroke="#3b579f" stroke-width="0.12" text-anchor="middle">13</text>
<text transform="translate(390.0,970.8) scale(0.91,1)" font-size="10.78" fill="#eda04a" stroke="#eda04a" stroke-width="0.12" text-anchor="middle">10</text>
<text transform="translate(390.0,989.4) scale(0.91,1)" font-size="10.78" fill="#8e2a6e" stroke="#8e2a6e" stroke-width="0.12" text-anchor="middle">1</text>
<text transform="translate(420.5,952.8) scale(0.91,1)" font-size="10.78" fill="#3b579f" stroke="#3b579f" stroke-width="0.12" text-anchor="middle">9</text>
<text transform="translate(420.5,970.8) scale(0.91,1)" font-size="10.78" fill="#eda04a" stroke="#eda04a" stroke-width="0.12" text-anchor="middle">9</text>
<text transform="translate(420.5,989.4) scale(0.91,1)" font-size="10.78" fill="#8e2a6e" stroke="#8e2a6e" stroke-width="0.12" text-anchor="middle">1</text>
<text transform="translate(450.6,952.8) scale(0.91,1)" font-size="10.78" fill="#3b579f" stroke="#3b579f" stroke-width="0.12" text-anchor="middle">6</text>
<text transform="translate(450.6,970.8) scale(0.91,1)" font-size="10.78" fill="#eda04a" stroke="#eda04a" stroke-width="0.12" text-anchor="middle">3</text>
<text transform="translate(450.6,989.4) scale(0.91,1)" font-size="10.78" fill="#8e2a6e" stroke="#8e2a6e" stroke-width="0.12" text-anchor="middle">1</text>
<text transform="translate(480.7,952.8) scale(0.91,1)" font-size="10.78" fill="#3b579f" stroke="#3b579f" stroke-width="0.12" text-anchor="middle">1</text>
<text transform="translate(480.7,970.8) scale(0.91,1)" font-size="10.78" fill="#eda04a" stroke="#eda04a" stroke-width="0.12" text-anchor="middle">1</text>
</svg>
</body></html>
